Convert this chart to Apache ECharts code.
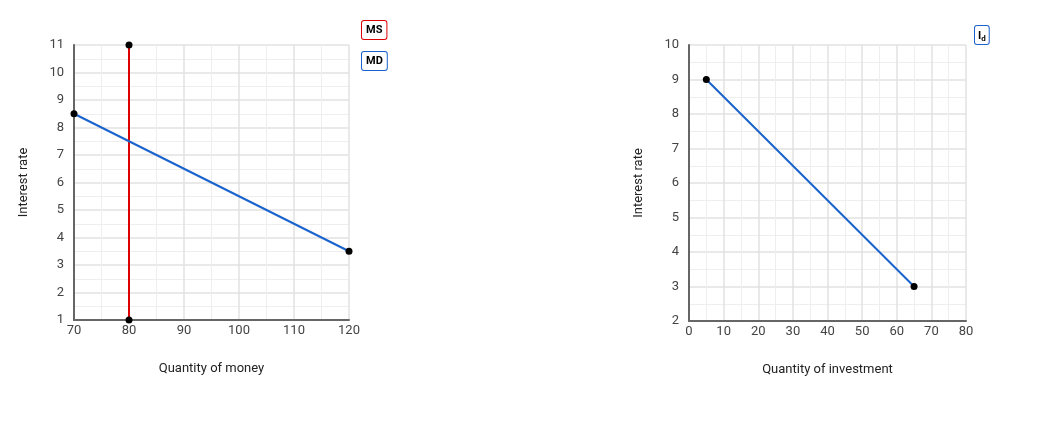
<!DOCTYPE html>
<html>
<head>
<meta charset="utf-8">
<script src="https://cdn.jsdelivr.net/npm/echarts@6/dist/echarts.min.js"></script>
<style>html,body{margin:0;padding:0;background:#fff}#main{width:1039px;height:428px}</style>
</head>
<body>
<div id="main"></div>
<script>
const msPoints = [[80, 11], [80, 1]];
const mdPoints = [[70, 8.5], [120, 3.5]];
const idPoints = [[5, 9], [65, 3]];

const chart = echarts.init(document.getElementById('main'));
const font = 'Roboto';

function xAxis(grid, min, max, interval, name) {
  return {
    gridIndex: grid, type: 'value', min, max, interval,
    name, nameLocation: 'middle', nameGap: 42,
    nameTextStyle: { color: '#222', fontSize: 13, fontFamily: font },
    axisLine: { lineStyle: { color: '#666', width: 2 } },
    axisTick: { show: false },
    axisLabel: { color: '#444', fontSize: 13, fontFamily: font, margin: 4 },
    splitLine: { lineStyle: { color: '#e2e2e2', width: 1.5 } },
    minorTick: { show: false, splitNumber: 2 },
    minorSplitLine: { show: true, lineStyle: { color: '#eeeeee' } }
  };
}
function yAxis(grid, min, max, name) {
  return {
    gridIndex: grid, type: 'value', min, max, interval: 1,
    name, nameLocation: 'middle', nameGap: 44,
    nameTextStyle: { color: '#222', fontSize: 13, fontFamily: font },
    axisLine: { show: true, lineStyle: { color: '#666', width: 2 } },
    axisTick: { show: false },
    axisLabel: { color: '#444', fontSize: 13, fontFamily: font, margin: 10 },
    splitLine: { lineStyle: { color: '#e2e2e2', width: 1.5 } },
    minorTick: { show: false, splitNumber: 2 },
    minorSplitLine: { show: true, lineStyle: { color: '#eeeeee' } }
  };
}
function line(x, y, data, color) {
  return {
    type: 'line', xAxisIndex: x, yAxisIndex: y, data,
    lineStyle: { color, width: 2 }, symbol: 'circle', symbolSize: 7,
    itemStyle: { color: '#000' }, animation: false
  };
}
function box(left, top, text, color) {
  return {
    type: 'text', left, top,
    style: {
      text, fill: '#000', font: 'bold 11px Roboto',
      backgroundColor: '#fff', borderColor: color, borderWidth: 1, borderRadius: 2,
      padding: [4, 4, 3, 4]
    }
  };
}

chart.setOption({
  grid: [
    { left: 74, top: 45, width: 275, height: 275 },
    { left: 689, top: 45, width: 277, height: 276 }
  ],
  xAxis: [
    xAxis(0, 70, 120, 10, 'Quantity of money'),
    xAxis(1, 0, 80, 10, 'Quantity of investment')
  ],
  yAxis: [
    yAxis(0, 1, 11, 'Interest rate'),
    yAxis(1, 2, 10, 'Interest rate')
  ],
  series: [
    line(0, 0, msPoints, '#dd0000'),
    line(0, 0, mdPoints, '#1a62cc'),
    line(1, 1, idPoints, '#1a62cc')
  ],
  graphic: [
    box(361, 20, 'MS', '#dd0000'),
    box(361, 51, 'MD', '#1a62cc'),
    {
      type: 'text', left: 974, top: 25,
      style: {
        text: '{a|I}{b|d}', backgroundColor: '#fff', borderColor: '#1a62cc', borderWidth: 1,
        borderRadius: 2, padding: [3, 3, 1, 3],
        rich: {
          a: { font: 'bold 11px Roboto', fill: '#000' },
          b: { font: 'bold 8px Roboto', fill: '#000', verticalAlign: 'bottom', padding: [6, 0, 0, 0] }
        }
      }
    }
  ]
});
</script>
</body>
</html>
